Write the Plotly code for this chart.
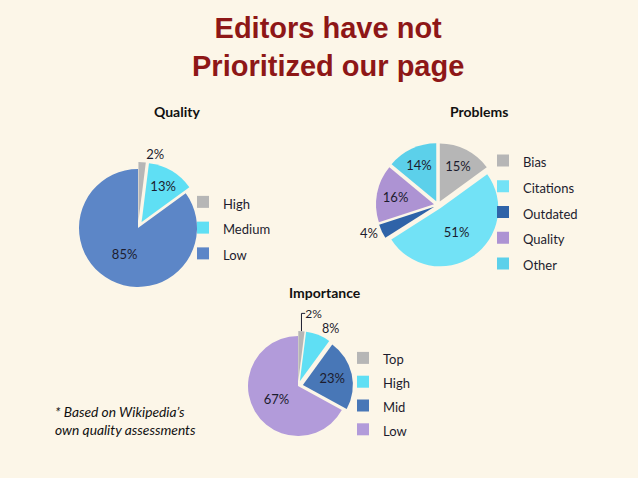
import plotly.graph_objects as go

# ---- data ----
quality_labels = ["High", "Medium", "Low"]
quality_values = [2, 13, 85]

problem_labels = ["Bias", "Citations", "Outdated", "Quality", "Other"]
problem_values = [15, 51, 4, 16, 14]

importance_labels = ["Top", "High", "Mid", "Low"]
importance_values = [2, 8, 23, 67]

title_text = "Editors have not<br>Prioritized our page"
footnote_text = "<i>* Based on Wikipedia’s<br>own quality assessments</i>"

# ---- style ----
BG = "#FCF6E8"
GRAY = "#B6B6B6"
CYAN = "#5FDFF4"
CYAN_L = "#72E2F6"
CYAN2 = "#5CD0EA"
BLUE = "#5C86C7"
DBLUE = "#2F63A8"
MBLUE = "#4877B7"
PURPLE = "#AD93D3"
PURPLE2 = "#B29BDA"
TXT = "#1C1C2E"
FONT = "Lato, Open Sans, sans-serif"
W, H = 638, 478


def leg(lbls):
    return ['<span style="font-size:13px">%s</span>' % s for s in lbls]


def dom(cx, cy, half):
    return dict(x=[(cx - half) / W, (cx + half) / W],
                y=[(H - cy - half) / H, (H - cy + half) / H])


fig = go.Figure()


def add_pie(labels, values, colors, pull, textpos, domain, legend, group, sizes=13):
    fig.add_trace(go.Pie(
        labels=leg(labels), values=values, sort=False,
        direction="clockwise", rotation=0,
        marker=dict(colors=colors, line=dict(width=0)),
        pull=pull, textinfo="percent", insidetextorientation="horizontal",
        textposition=textpos,
        textfont=dict(family=FONT, size=sizes, color=TXT),
        domain=domain, legend=legend, legendgroup=group,
        hoverinfo="label+percent",
    ))


add_pie(quality_labels, quality_values, [GRAY, CYAN, BLUE],
        [0.12, 0.12, 0], ["outside", "inside", "inside"],
        dom(138, 228, 59 * 1.12), "legend", "quality")

add_pie(problem_labels, problem_values, [GRAY, CYAN_L, DBLUE, PURPLE, CYAN2],
        [0.07, 0.07, 0.07, 0.07, 0.07], ["inside", "inside", "outside", "inside", "inside"],
        dom(438, 205, 58 * 1.07), "legend2", "problems")

add_pie(importance_labels, importance_values, [GRAY, CYAN, MBLUE, PURPLE2],
        [0.1, 0.1, 0.1, 0], ["outside", "outside", "inside", "inside"],
        dom(298, 386, 50 * 1.1), "legend3", "importance", sizes=[12, 12.5, 13, 13])


def legend_style(x, y, size):
    return dict(x=x / W, y=1 - y / H, bgcolor="rgba(0,0,0,0)", xanchor="left", yanchor="top",
                font=dict(family=FONT, size=size, color=TXT), traceorder="normal")


def label(text, x, y, size, **kw):
    return dict(text=text, x=x / W, y=1 - y / H, xref="paper", yref="paper",
                showarrow=False, font=dict(family=kw.pop("family", FONT), size=size,
                                           color=kw.pop("color", "#111")), **kw)


fig.update_layout(
    width=W, height=H,
    paper_bgcolor=BG, plot_bgcolor=BG,
    margin=dict(l=0, r=0, t=0, b=0),
    legend=legend_style(183, 184, 17.5),
    legend2=legend_style(483, 142.5, 17.5),
    legend3=legend_style(343, 341, 16),
    annotations=[
        label("<b>%s</b>" % title_text, 328, 10, 29, xanchor="center", yanchor="top",
              family="Liberation Sans, Arial, sans-serif", color="#8E1717"),
        label("<b>Quality</b>", 177, 112, 14, xanchor="center", yanchor="middle"),
        label("<b>Problems</b>", 479, 112, 14, xanchor="center", yanchor="middle"),
        label("<b>Importance</b>", 325, 292, 14, xanchor="center", yanchor="middle"),
        label(footnote_text, 53, 420, 13.8, xanchor="left", yanchor="middle", align="left"),
    ],
)

fig.write_html("out.html", config={"displayModeBar": False},
               post_script="document.body.style.margin='0';document.body.style.background='%s';" % BG)
